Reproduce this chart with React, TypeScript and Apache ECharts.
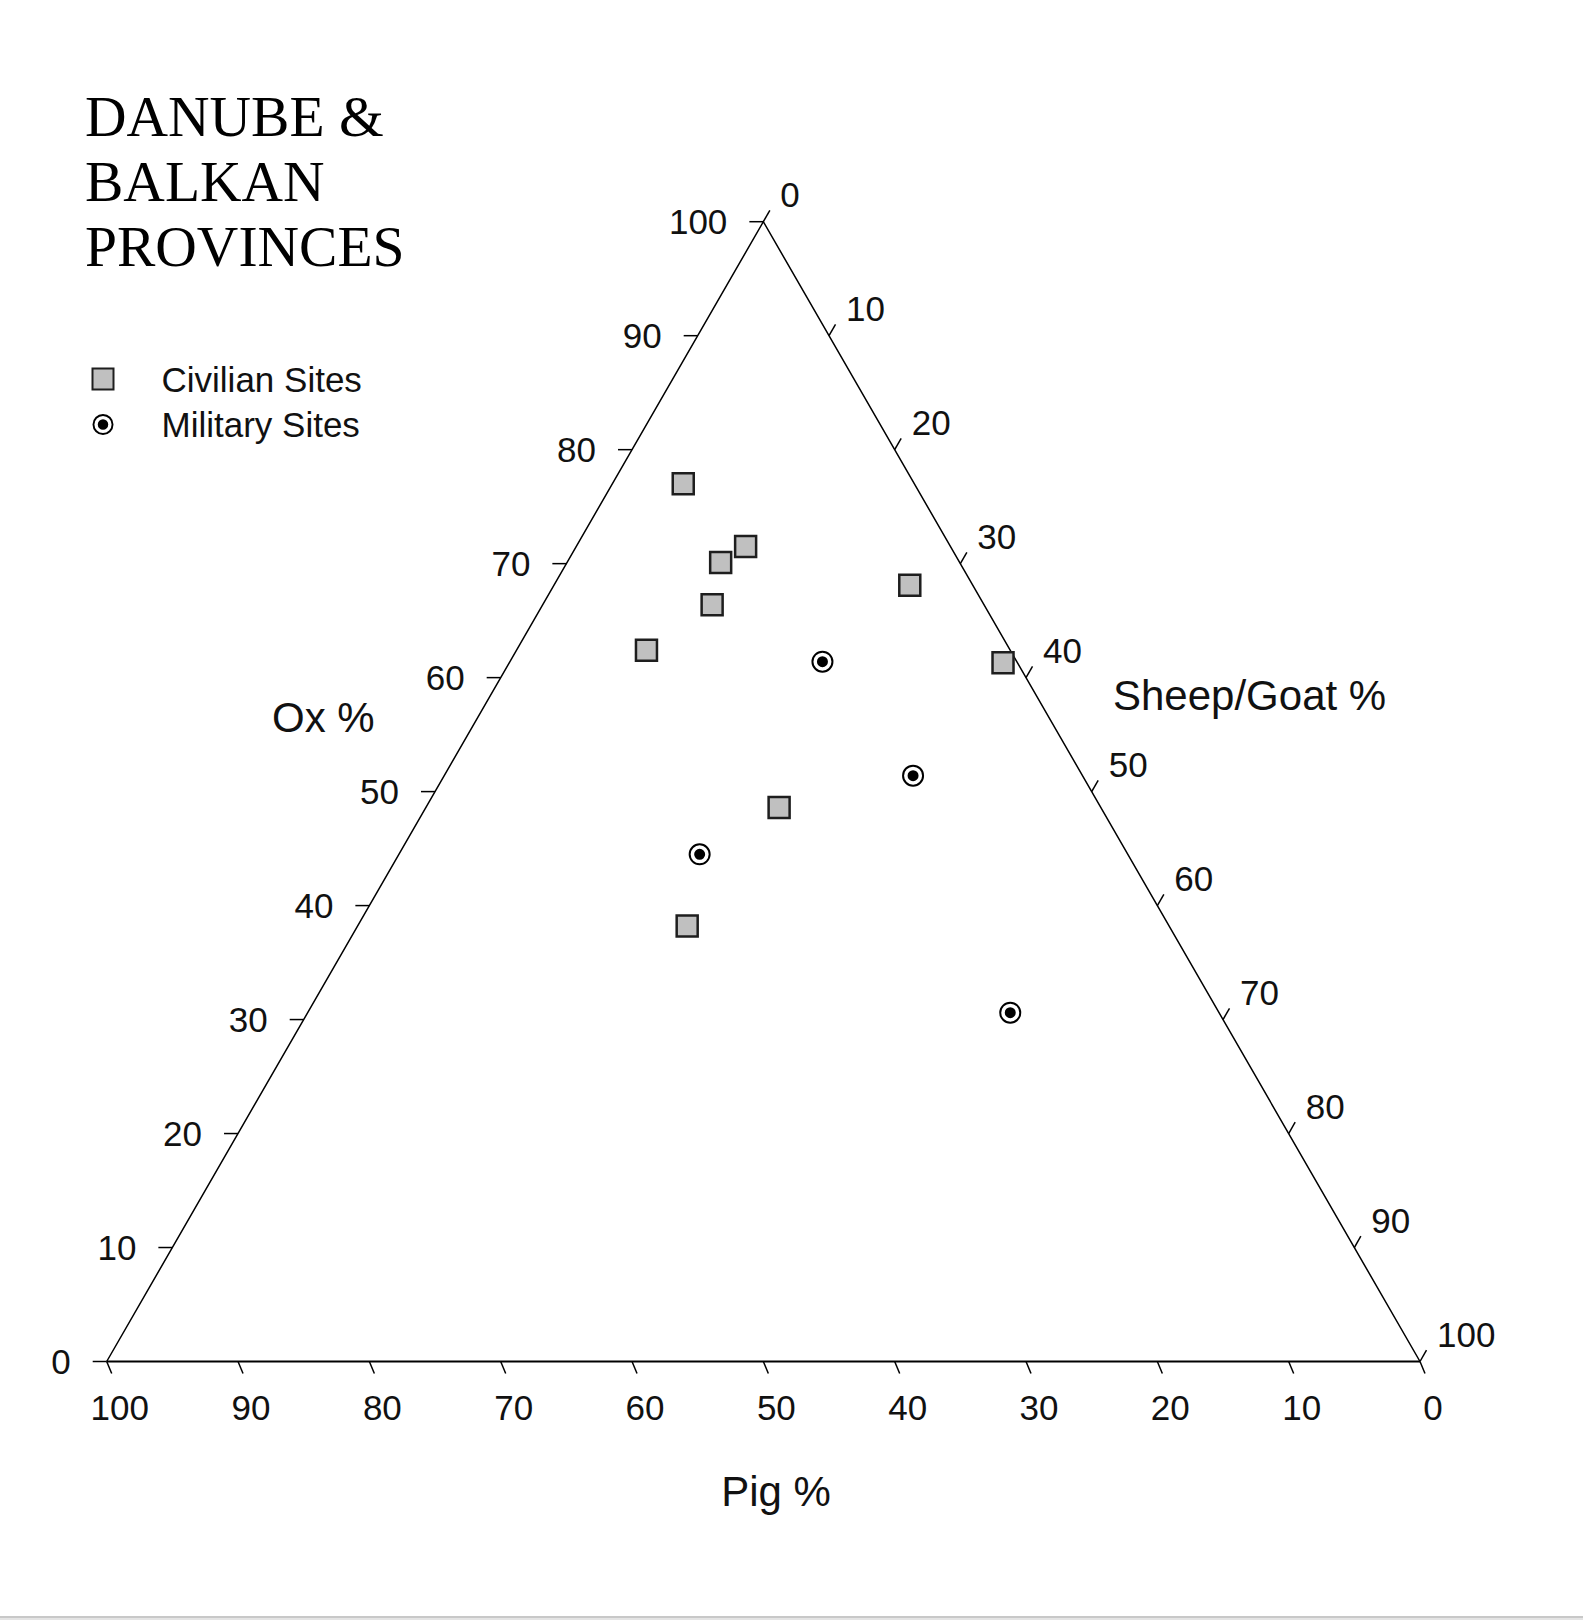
import React, { useEffect, useRef } from "react";
import * as echarts from "echarts";

// ---- Data ----
const TICK_VALUES = [0, 10, 20, 30, 40, 50, 60, 70, 80, 90, 100];

const CIVILIAN_OX = [77.0, 71.5, 70.1, 66.4, 62.4, 68.1, 61.3, 48.6, 38.2];
const CIVILIAN_SHEEP = [5.4, 12.9, 11.7, 12.9, 9.9, 27.1, 37.6, 26.9, 25.1];
const CIVILIAN_PIG = [17.6, 15.6, 18.2, 20.7, 27.7, 4.8, 1.1, 24.5, 36.7];

const MILITARY_OX = [61.4, 51.4, 44.5, 30.6];
const MILITARY_SHEEP = [23.8, 35.7, 22.9, 53.5];
const MILITARY_PIG = [14.8, 12.9, 32.6, 15.9];

const TITLE_LINES = ["DANUBE &", "BALKAN", "PROVINCES"];
const SERIES_NAMES = ["Civilian Sites", "Military Sites"];
const AXIS_TITLES = { ox: "Ox %", sheep: "Sheep/Goat %", pig: "Pig %" };

// ternary (ox, sheep, pig) -> cartesian data space [0..100] x [0..100]
function project(ox: number, sheep: number, pig: number): [number, number] {
  const t = ox + sheep + pig;
  const o = (ox / t) * 100;
  const s = (sheep / t) * 100;
  return [s + o / 2, o];
}

const MILITARY_SYMBOL =
  "path://M11,0 A11,11 0 1,1 -11,0 A11,11 0 1,1 11,0 Z M9,0 A9,9 0 1,0 -9,0 A9,9 0 1,0 9,0 Z M5.5,0 A5.5,5.5 0 1,1 -5.5,0 A5.5,5.5 0 1,1 5.5,0 Z";

const SANS = "'Liberation Sans', Arial, sans-serif";
const SERIF = "'Liberation Serif', 'Times New Roman', serif";

function buildOption() {
  const civilian = CIVILIAN_OX.map((ox, i) => project(ox, CIVILIAN_SHEEP[i], CIVILIAN_PIG[i]));
  const military = MILITARY_OX.map((ox, i) => project(ox, MILITARY_SHEEP[i], MILITARY_PIG[i]));

  const tickText = { fontSize: 35, fontFamily: SANS, fill: "#111" };
  const lineStyle = { stroke: "#000", lineWidth: 1.5 };

  const renderAxes = (params: any, api: any) => {
    const v = api.value(0);
    const children: any[] = [];
    // Ox axis (left side)
    const pL = api.coord([v / 2, v]);
    children.push({ type: "line", shape: { x1: pL[0], y1: pL[1], x2: pL[0] - 14, y2: pL[1] }, style: lineStyle });
    children.push({
      type: "text",
      x: pL[0] - 36,
      y: pL[1],
      style: { text: String(v), ...tickText, align: "right", verticalAlign: "middle", textAlign: "right", textVerticalAlign: "middle" },
    });
    // Sheep/Goat axis (right side)
    const pR = api.coord([50 + v / 2, 100 - v]);
    children.push({ type: "line", shape: { x1: pR[0], y1: pR[1], x2: pR[0] + 6.5, y2: pR[1] - 11.3 }, style: lineStyle });
    children.push({
      type: "text",
      x: pR[0] + 17,
      y: pR[1] - 27,
      style: { text: String(v), ...tickText, align: "left", verticalAlign: "middle", textAlign: "left", textVerticalAlign: "middle" },
    });
    // Pig axis (bottom)
    const pB = api.coord([100 - v, 0]);
    children.push({ type: "line", shape: { x1: pB[0], y1: pB[1], x2: pB[0] + 5, y2: pB[1] + 12 }, style: lineStyle });
    children.push({
      type: "text",
      x: pB[0] + 13,
      y: pB[1] + 45.5,
      style: { text: String(v), ...tickText, align: "center", verticalAlign: "middle", textAlign: "center", textVerticalAlign: "middle" },
    });
    if (params.dataIndex === 0) {
      const a = api.coord([0, 0]);
      const b = api.coord([100, 0]);
      const c = api.coord([50, 100]);
      children.push({ type: "polyline", shape: { points: [a, c, b] }, style: { ...lineStyle, fill: "none" } });
      children.push({ type: "line", shape: { x1: a[0], y1: a[1], x2: b[0], y2: b[1] }, style: { stroke: "#000", lineWidth: 2 } });
      // axis titles
      children.push({
        type: "text",
        x: 272,
        y: 717,
        style: { text: AXIS_TITLES.ox, fontSize: 42, fontFamily: SANS, fill: "#111", align: "left", verticalAlign: "middle", textAlign: "left", textVerticalAlign: "middle" },
      });
      children.push({
        type: "text",
        x: 1113,
        y: 695,
        style: { text: AXIS_TITLES.sheep, fontSize: 42, fontFamily: SANS, fill: "#111", align: "left", verticalAlign: "middle", textAlign: "left", textVerticalAlign: "middle" },
      });
      children.push({
        type: "text",
        x: 776,
        y: 1491,
        style: { text: AXIS_TITLES.pig, fontSize: 42, fontFamily: SANS, fill: "#111", align: "center", verticalAlign: "middle", textAlign: "center", textVerticalAlign: "middle" },
      });
    }
    return { type: "group", children };
  };

  return {
    animation: false,
    backgroundColor: "#fff",
    title: {
      text: TITLE_LINES.join("\n"),
      left: 85,
      top: 84,
      padding: 0,
      textStyle: { fontFamily: SERIF, fontSize: 57.5, lineHeight: 65, fontWeight: "normal", color: "#000" },
    },
    legend: {
      left: 91.5,
      top: 361.5,
      orient: "vertical",
      padding: 0,
      itemWidth: 21,
      itemHeight: 21,
      itemGap: 10.5,
      selectedMode: false,
      textStyle: { fontFamily: SANS, fontSize: 35, color: "#111", lineHeight: 21, padding: [0, 0, 0, 43] },
      data: [
        { name: SERIES_NAMES[0], icon: "rect" },
        { name: SERIES_NAMES[1], icon: MILITARY_SYMBOL },
      ],
    },
    grid: { left: 106.7, right: 163, top: 221.7, bottom: 258.5, containLabel: false },
    xAxis: { type: "value", min: 0, max: 100, show: false },
    yAxis: { type: "value", min: 0, max: 100, show: false },
    graphic: [
      { type: "rect", shape: { x: 0, y: 1616, width: 1583, height: 2 }, style: { fill: "#c8c8c8" }, silent: true },
      { type: "rect", shape: { x: 0, y: 1618, width: 1583, height: 2 }, style: { fill: "#e4e4e4" }, silent: true },
    ],
    series: [
      {
        type: "custom",
        name: "axes",
        silent: true,
        clip: false,
        data: TICK_VALUES.map((v) => [v]),
        encode: { x: 0, y: 0 },
        renderItem: renderAxes,
        z: 1,
      },
      {
        type: "scatter",
        name: SERIES_NAMES[0],
        data: civilian,
        symbol: "rect",
        symbolSize: 21,
        itemStyle: { color: "#c0c0c0", borderColor: "#1e1e1e", borderWidth: 2.5, opacity: 1 },
        z: 3,
      },
      {
        type: "scatter",
        name: SERIES_NAMES[1],
        data: military,
        symbol: MILITARY_SYMBOL,
        symbolSize: 22,
        itemStyle: { color: "#000", borderWidth: 0, opacity: 1 },
        z: 3,
      },
    ],
  };
}

export default function App() {
  const ref = useRef<HTMLDivElement>(null);
  useEffect(() => {
    if (!ref.current) return;
    const chart = echarts.init(ref.current, null, { renderer: "svg" });
    chart.setOption(buildOption() as any);
    return () => chart.dispose();
  }, []);
  return (
    <div
      ref={ref}
      style={{ position: "absolute", left: 0, top: 0, width: 1583, height: 1620, background: "#fff" }}
    />
  );
}
